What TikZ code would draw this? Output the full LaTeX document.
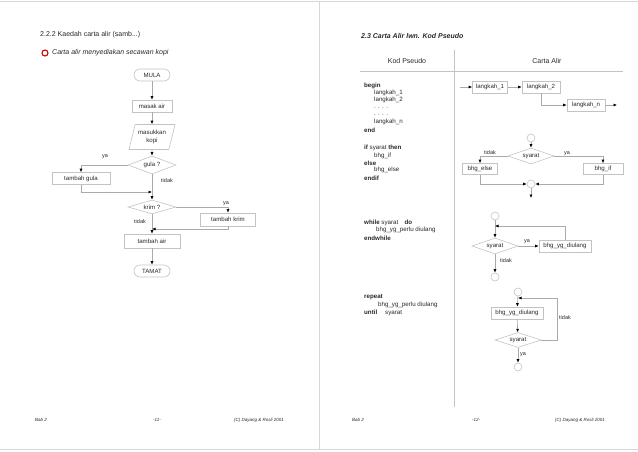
\documentclass[tikz,border=0pt]{standalone}
\usepackage{fontspec}
\setmainfont{Liberation Sans}
\usetikzlibrary{shapes.geometric,arrows.meta}
\definecolor{boxgray}{RGB}{195,195,195}
\definecolor{linegray}{RGB}{170,170,170}
\definecolor{framegray}{RGB}{215,215,215}
\definecolor{txt}{RGB}{40,40,40}
\newcommand\fhead{\fontsize{7}{8}\selectfont}
\newcommand\fboxtext{\fontsize{6.1}{7.2}\selectfont}
\newcommand\fcode{\fontsize{6.2}{7}\selectfont}
\newcommand\flab{\fontsize{5.5}{6}\selectfont}
\newcommand\ffoot{\fontsize{4.5}{5}\selectfont\itshape}
\tikzset{
  box/.style={draw=boxgray, line width=0.6pt, inner sep=1.5pt, minimum height=12pt, font=\fboxtext, text=txt},
  term/.style={box, rounded corners=6pt, minimum width=36pt},
  dec/.style={diamond, aspect=3, draw=boxgray, line width=0.6pt, inner sep=0pt, font=\fboxtext, text=txt},
  para/.style={trapezium, trapezium left angle=70, trapezium right angle=110, draw=boxgray, line width=0.6pt, inner sep=1pt, font=\fboxtext, text=txt, align=center, trapezium stretches=true},
  conn/.style={draw=linegray, line width=0.6pt},
  arr/.style={conn, -{Latex[length=3.5pt,width=3pt,black]}},
  lab/.style={font=\flab, text=txt, inner sep=0pt},
  code/.style={font=\fcode, text=txt, anchor=west, inner sep=0pt},
  foot/.style={font=\ffoot, text=txt, inner sep=0pt},
  circ/.style={circle, draw=boxgray, line width=0.6pt, minimum size=8pt, inner sep=0pt},
  frame/.style={draw=framegray, line width=1pt}
}
\begin{document}
\begin{tikzpicture}[x=1pt,y=-1pt]
\useasboundingbox (0,0) rectangle (638,451);
% frame
\draw[frame] (0,1.5) -- (638,1.5);
\draw[frame] (0,449) -- (638,449);
\draw[frame] (319,1.5) -- (319,449);

% ---------- left page ----------
\node[font=\fhead, text=txt, anchor=west, inner sep=0pt] (t1) at (40,35) {2.2.2 Kaedah carta alir (samb...)};
\node[circle, draw=red!80!black, line width=1.1pt, minimum size=6pt, inner sep=0pt] (bul) at (45,53) {};
\node[font=\fhead, text=txt, anchor=west, inner sep=0pt] (t2) at (52,53) {\itshape Carta alir menyediakan secawan kopi};

\node[term] (mula) at (152,75) {MULA};
\node[box, minimum width=40pt] (masak) at (152,106) {masak air};
\node[para, minimum width=46pt, minimum height=25pt] (kopi) at (152,137) {masukkan\\kopi};
\node[dec, minimum width=48pt, minimum height=18pt] (gula) at (152,165) {gula ?};
\node[box, minimum width=58pt] (tgula) at (81,178.5) {tambah gula};
\node[dec, minimum width=48pt, minimum height=14pt] (krim) at (152,207) {krim ?};
\node[box, minimum width=55pt, minimum height=13pt] (tkrim) at (228,219.5) {tambah krim};
\node[box, minimum width=56pt, minimum height=14pt] (tair) at (152,241) {tambah air};
\node[term] (tamat) at (152,271) {TAMAT};

\coordinate (j1) at (152,192);
\coordinate (j2) at (152,229);

\draw[arr] (mula) -- (masak);
\draw[arr] (masak) -- (kopi);
\draw[arr] (kopi) -- (gula);
\draw[arr] (gula.west) -| (tgula.north);
\draw[arr] (gula.south) -- (krim.north);
\draw[arr] (tgula.south) |- (j1);
\draw[arr] (krim.east) -| (tkrim.north);
\draw[arr] (krim.south) -- (tair.north);
\draw[arr] (tkrim.south) |- (j2);
\draw[arr] (tair) -- (tamat);

\node[lab] (ya1) at (105,157) {ya};
\node[lab] (td1) at (167,181) {tidak};
\node[lab] (ya2) at (226,204) {ya};
\node[lab] (td2) at (140,222) {tidak};

\node[foot] (f1) at (41,420) {Bab 2};
\node[foot] (f2) at (157,420) {-11-};
\node[foot] (f3) at (259,420) {(C) Dayang \& Rosli 2001};

% ---------- right page ----------
\node[font=\fhead\bfseries, text=txt, anchor=west, inner sep=0pt] (t3) at (361,36) {\itshape 2.3 Carta Alir lwn. Kod Pseudo};
\node[font=\fhead, text=txt, inner sep=0pt] (kp) at (407,61) {Kod Pseudo};
\node[font=\fhead, text=txt, inner sep=0pt] (ca) at (547,61) {Carta Alir};
\draw[draw=boxgray, line width=0.8pt] (360,71) -- (623,71);
\draw[draw=boxgray, line width=0.8pt] (454,50) -- (454,407);

% sequence
\node[code] (p1) at (364,86) {\bfseries begin};
\node[code] (p2) at (374,93) {langkah\_1};
\node[code] (p3) at (374,100) {langkah\_2};
\node[code] (p4) at (374,108) {. . . .};
\node[code] (p5) at (374,115) {. . . .};
\node[code] (p6) at (374,122) {langkah\_n};
\node[code] (p7) at (364,130) {\bfseries end};

\node[box, minimum width=35pt] (l1) at (490,87) {langkah\_1};
\node[box, minimum width=38pt] (l2) at (541,87) {langkah\_2};
\node[box, minimum width=38pt] (ln) at (586,105) {langkah\_n};
\coordinate (s0) at (460,87);
\coordinate (e0) at (617,105);
\draw[arr] (s0) -- (l1);
\draw[arr] (l1) -- (l2);
\draw[arr] (l2.south) |- (ln.west);
\draw[arr] (ln.east) -- (e0);

% if
\node[code] (q1) at (364,148) {\bfseries if \mdseries syarat \bfseries then};
\node[code] (q2) at (374,156) {bhg\_if};
\node[code] (q3) at (364,163) {\bfseries else};
\node[code] (q4) at (374,170) {bhg\_else};
\node[code] (q5) at (364,178) {\bfseries endif};

\node[circ] (c1) at (531,138) {};
\node[dec, minimum width=46pt, minimum height=16pt] (ifd) at (531,156) {syarat};
\node[box, minimum width=35pt, minimum height=11pt] (belse) at (480,169) {bhg\_else};
\node[box, minimum width=40pt, minimum height=11pt] (bif) at (603,169) {bhg\_if};
\node[circ] (c2) at (531,184) {};
\coordinate (e1) at (531,198);
\draw[arr] (c1) -- (ifd);
\draw[arr] (ifd.west) -| (belse.north);
\draw[arr] (ifd.east) -| (bif.north);
\draw[arr] (belse.south) |- (c2.west);
\draw[arr] (bif.south) |- (c2.east);
\draw[arr] (c2) -- (e1);
\node[lab] (td3) at (490,153) {tidak};
\node[lab] (ya3) at (567,154) {ya};

% while
\node[code] (w1) at (364,223) {\bfseries while \mdseries syarat\quad\bfseries do};
\node[code] (w2) at (376,230) {bhg\_yg\_perlu diulang};
\node[code] (w3) at (364,238) {\bfseries endwhile};

\node[circ] (c3) at (495,216) {};
\node[dec, minimum width=46pt, minimum height=16pt] (wd) at (495,246) {syarat};
\node[box, minimum width=52pt] (wb) at (565,246) {bhg\_yg\_diulang};
\node[circ] (c4) at (495,277) {};
\coordinate (j3) at (495,226);
\draw[arr] (c3) -- (wd);
\draw[arr] (wd.east) -- (wb.west);
\draw[arr] (wb.north) |- (j3);
\draw[arr] (wd.south) -- (c4.north);
\node[lab] (ya4) at (527,242) {ya};
\node[lab] (td4) at (506,261) {tidak};

% repeat
\node[code] (r1) at (364,297) {\bfseries repeat};
\node[code] (r2) at (378,305) {bhg\_yg\_perlu diulang};
\node[code] (r3) at (364,313) {\bfseries until \mdseries\quad syarat};

\node[circ] (c5) at (518,292) {};
\node[box, minimum width=52pt] (rb) at (517,313) {bhg\_yg\_diulang};
\node[dec, minimum width=46pt, minimum height=15pt] (rd) at (518,340) {syarat};
\node[circ] (c6) at (518,367) {};
\coordinate (k1) at (557,340);
\coordinate (j4) at (518,298);
\draw[arr] (c5) -- (rb);
\draw[arr] (rb) -- (rd);
\draw[arr] (rd.east) -- (k1) |- (j4);
\draw[arr] (rd.south) -- (c6.north);
\node[lab] (td5) at (565,318) {tidak};
\node[lab] (ya5) at (523,355) {ya};

\node[foot] (f4) at (358,420) {Bab 2};
\node[foot] (f5) at (476,420) {-12-};
\node[foot] (f6) at (580,420) {(C) Dayang \& Rosli 2001};
\end{tikzpicture}
\end{document}
